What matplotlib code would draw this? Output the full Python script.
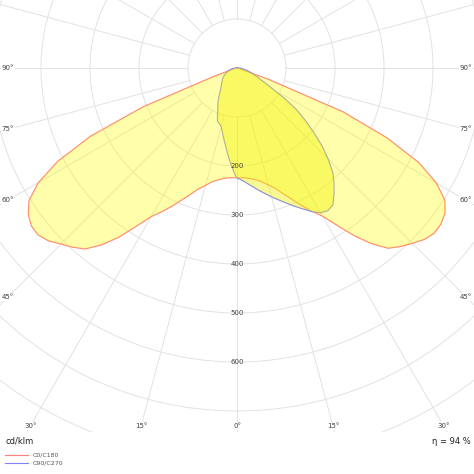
import numpy as np
import matplotlib
matplotlib.use("Agg")
import matplotlib.pyplot as plt
from matplotlib.patches import Rectangle
from matplotlib.lines import Line2D

# Lichtstärkeverteilung (cd/klm), gamma in Grad ab Nadir
gamma_c0 = [0, 2.5, 5, 7.5, 10, 12.5, 15, 17.5, 20, 22.5, 25, 27.5, 30, 32.5, 35, 37.5,
            40, 42.5, 45, 47.5, 50, 52.5, 55, 57.5, 60, 62.5, 65, 67.5, 70, 72.5, 75, 80, 85, 90]
c0 = [224, 224, 225, 228, 232, 238, 247, 257, 272, 289, 309, 329, 349, 381, 418, 452,
      480, 494, 506, 518, 525, 524, 518, 503, 470, 418, 338, 235, 72, 8, 3, 2, 1, 0]
c180 = [224, 224, 225, 228, 232, 238, 248, 258, 273, 290, 310, 330, 350, 383, 422, 455,
        482, 496, 508, 522, 530, 529, 520, 503, 468, 412, 330, 208, 50, 8, 3, 2, 1, 0]

gamma_c90 = [0, 1, 2.5, 5, 7.5, 10, 12.5, 15, 17.5, 20, 22.5, 25, 27.5, 30, 32.5, 35, 37.5,
             40, 42.5, 45, 47.5, 50, 52.5, 55, 57.5, 60, 62.5, 65, 70, 75, 80, 85, 90]
c90 = [224, 226, 229, 236, 244, 253, 262, 272, 282, 293, 305, 317, 330, 341, 345, 341, 325,
       308, 289, 263, 235, 204, 175, 148, 113, 80, 62, 48, 33, 22, 14, 7, 0]
c270 = [224, 218, 205, 186, 166, 150, 136, 124, 119, 116, 104, 92, 84, 76, 68, 60, 55,
        50, 47, 44, 41, 39, 37, 35, 32, 30, 27, 24, 20, 15, 11, 6, 0]

ring_values = [200, 300, 400, 500, 600]
angle_ticks = [0, 15, 30, 45, 60, 75, 90]
efficiency = "η = 94 %"
unit_label = "cd/klm"
legend_labels = ["C0/C180", "C90/C270"]

# Geometrie (Pixel)
W = 474
CX, CY = 237, 68
S = 0.49  # px pro cd/klm


def to_xy(gamma, values, side):
    g = np.radians(np.asarray(gamma, dtype=float))
    r = np.asarray(values, dtype=float)
    return side * r * np.sin(g), -r * np.cos(g)


def plane_outline(gamma, right, left):
    xl, yl = to_xy(gamma, left, -1)
    xr, yr = to_xy(gamma, right, 1)
    x = np.concatenate([xl[::-1], xr[1:]])
    y = np.concatenate([yl[::-1], yr[1:]])
    return x, y


fig = plt.figure(figsize=(W / 100, W / 100), dpi=100)
ax = fig.add_axes([0, 0, 1, 1])
ax.set_xlim(-CX / S, (W - CX) / S)
ax.set_ylim(-(W - CY) / S, CY / S)
ax.axis("off")

clip = Rectangle((-CX / S, -(432 - CY) / S), W / S, 432 / S,
                 transform=ax.transData, facecolor="none", edgecolor="none")
ax.add_patch(clip)

grid_kw = dict(color="#e2e2e2", lw=0.7, zorder=1)
t = np.linspace(0, 2 * np.pi, 720)
for r in range(100, 1300, 100):
    ln, = ax.plot(r * np.cos(t), r * np.sin(t), **grid_kw)
    ln.set_clip_path(clip)
for a in range(0, 360, 15):
    ar = np.radians(a)
    ln, = ax.plot([100 * np.sin(ar), 1300 * np.sin(ar)],
                  [-100 * np.cos(ar), -1300 * np.cos(ar)], **grid_kw)
    ln.set_clip_path(clip)

# Kurven
x0, y0 = plane_outline(gamma_c0, c0, c180)
x9, y9 = plane_outline(gamma_c90, c90, c270)
ax.plot(x0, y0, color="#ff7f7f", lw=0.9, zorder=2)
ax.plot(x9, y9, color="#7f7fff", lw=0.9, zorder=2)
ax.fill(x0, y0, color="#ffff00", alpha=0.33, lw=0, zorder=3)
ax.fill(x9, y9, color="#f2f200", alpha=0.42, lw=0, zorder=4)

# Beschriftung
txt_kw = dict(fontsize=5, color="#444444", ha="center", va="center", zorder=6)
for v in ring_values:
    ax.text(0, -v, str(v), **txt_kw)

side_lim = 229 / S
bottom_lim = (426 - CY) / S
for g in angle_ticks:
    gr = np.radians(g)
    for side in ([1] if g == 0 else [-1, 1]):
        dx, dy = side * np.sin(gr), -np.cos(gr)
        ts = side_lim / abs(dx) if abs(dx) > 1e-9 else np.inf
        tb = bottom_lim / -dy if dy < -1e-9 else np.inf
        tt = min(ts, tb)
        ax.text(tt * dx, tt * dy, f"{g}°",
                bbox=dict(facecolor="white", edgecolor="none", pad=0.6), **txt_kw)


def fx(px):
    return px / W


def fy(py):
    return 1 - py / W


fig.text(fx(5), fy(441), unit_label, fontsize=6, color="#222222", va="center", ha="left")
fig.text(fx(471), fy(441), efficiency, fontsize=6, color="#222222", va="center", ha="right")
for i, (lab, col) in enumerate(zip(legend_labels, ["#ff7f7f", "#7f7fff"])):
    yy = fy(455 + 8 * i)
    fig.add_artist(Line2D([fx(5), fx(28)], [yy, yy], color=col, lw=0.8,
                          transform=fig.transFigure))
    fig.text(fx(33), yy, lab, fontsize=4.5, color="#555555", va="center", ha="left")

fig.savefig("out.png", dpi=100, facecolor="white")
